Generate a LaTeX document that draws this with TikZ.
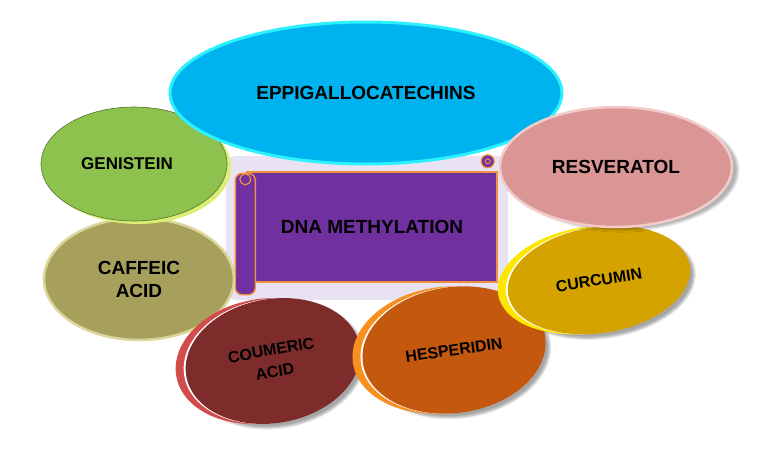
\documentclass[tikz,border=0pt]{standalone}
\usepackage{fontspec}
\setmainfont{Liberation Sans}
\usetikzlibrary{shapes.geometric, shadows, shadows.blur}
\definecolor{eppiBlue}{HTML}{00B2EE}
\definecolor{eppiGlow}{HTML}{2CF2FF}
\definecolor{genGreen}{HTML}{8DC24E}
\definecolor{genRim}{HTML}{D9EE72}
\definecolor{cafOlive}{HTML}{A7A05D}
\definecolor{cafRim}{HTML}{DCD69C}
\definecolor{resPink}{HTML}{D99694}
\definecolor{resRim}{HTML}{F4CBCB}
\definecolor{curGold}{HTML}{D4A300}
\definecolor{curRim}{HTML}{FFE600}
\definecolor{couRed}{HTML}{7D2B2B}
\definecolor{couRim}{HTML}{D24C4C}
\definecolor{hesOrange}{HTML}{C4580F}
\definecolor{hesRim}{HTML}{F7901E}
\definecolor{scrollPurple}{HTML}{7030A0}
\definecolor{scrollEdge}{HTML}{F0903C}
\definecolor{scrollGlow}{HTML}{E9E2F2}

\begin{document}
\begin{tikzpicture}[x=1pt, y=-1pt,
  pill/.style={ellipse, inner sep=0pt, align=center,
               font=\fontsize{19}{23}\selectfont\bfseries},
  bevel/.style 2 args={pill, fill=#2,
               font=\fontsize{16}{22}\selectfont\bfseries,
               blur shadow={shadow xshift=4pt, shadow yshift=-4pt,
                            shadow opacity=35, shadow blur steps=6},
               general shadow={fill=#1, shadow xshift=-10pt, shadow yshift=0pt},
               general shadow={fill=white, shadow xshift=-2pt, shadow yshift=0pt}},
  scroll/.style={rectangle, fill=scrollPurple, draw=scrollEdge, line width=1.4pt,
               minimum width=250pt, minimum height=110pt,
               font=\fontsize{19}{23}\selectfont\bfseries},
]
  \useasboundingbox (0,0) rectangle (768,453);

  % scroll in the middle
  \fill[scrollGlow, rounded corners=10pt] (226,156) rectangle (508,300);
  \node[scroll] (dna) at (372,227) {DNA METHYLATION};
  \filldraw[fill=scrollPurple, draw=scrollEdge, line width=1.4pt, rounded corners=7pt]
    ([xshift=-11pt, yshift=-2pt]dna.north west) rectangle ([xshift=9pt, yshift=-12pt]dna.south west);
  \filldraw[fill=scrollPurple, draw=scrollEdge, line width=1.2pt]
    ([xshift=-1pt, yshift=-8pt]dna.north west) circle (5.5pt);
  \filldraw[fill=scrollPurple, draw=scrollEdge, line width=1.2pt]
    ([xshift=-10pt, yshift=10pt]dna.north east) circle (6.5pt);
  \draw[scrollEdge, line width=1pt]
    ([xshift=-10pt, yshift=10pt]dna.north east) circle (2.5pt);

  % left column
  \node[pill, fill=cafOlive, draw=cafRim, line width=2.5pt,
        minimum width=190pt, minimum height=122pt] (caf) at (139,279) {CAFFEIC\\ACID};
  \node[pill, fill=genGreen, draw=genGreen!60!black, line width=0.6pt,
        font=\fontsize{17}{21}\selectfont\bfseries,
        general shadow={fill=genRim, shadow xshift=4pt, shadow yshift=-3pt},
        minimum width=186pt, minimum height=114pt] (gen) at (134,164) {GENISTEIN\hspace*{14pt}};

  % top
  \node[pill, fill=eppiBlue, draw=eppiGlow, line width=3pt,
        minimum width=392pt, minimum height=142pt] (eppi) at (366,93) {EPPIGALLOCATECHINS};

  % bottom row
  \node[bevel={couRim}{couRed}, rotate=10,
        minimum width=176pt, minimum height=124pt] (cou) at (273,361) {COUMERIC\\ACID};
  \node[bevel={hesRim}{hesOrange}, rotate=8,
        minimum width=184pt, minimum height=126pt] (hes) at (454,350) {HESPERIDIN};
  \node[bevel={curRim}{curGold}, rotate=9,
        minimum width=184pt, minimum height=106pt] (cur) at (599,280) {CURCUMIN};

  % right
  \node[pill, fill=resPink, draw=resRim, line width=2.5pt,
        blur shadow={shadow xshift=6pt, shadow yshift=-3pt, shadow opacity=30},
        minimum width=232pt, minimum height=120pt] (res) at (616,167) {RESVERATOL};
\end{tikzpicture}
\end{document}
